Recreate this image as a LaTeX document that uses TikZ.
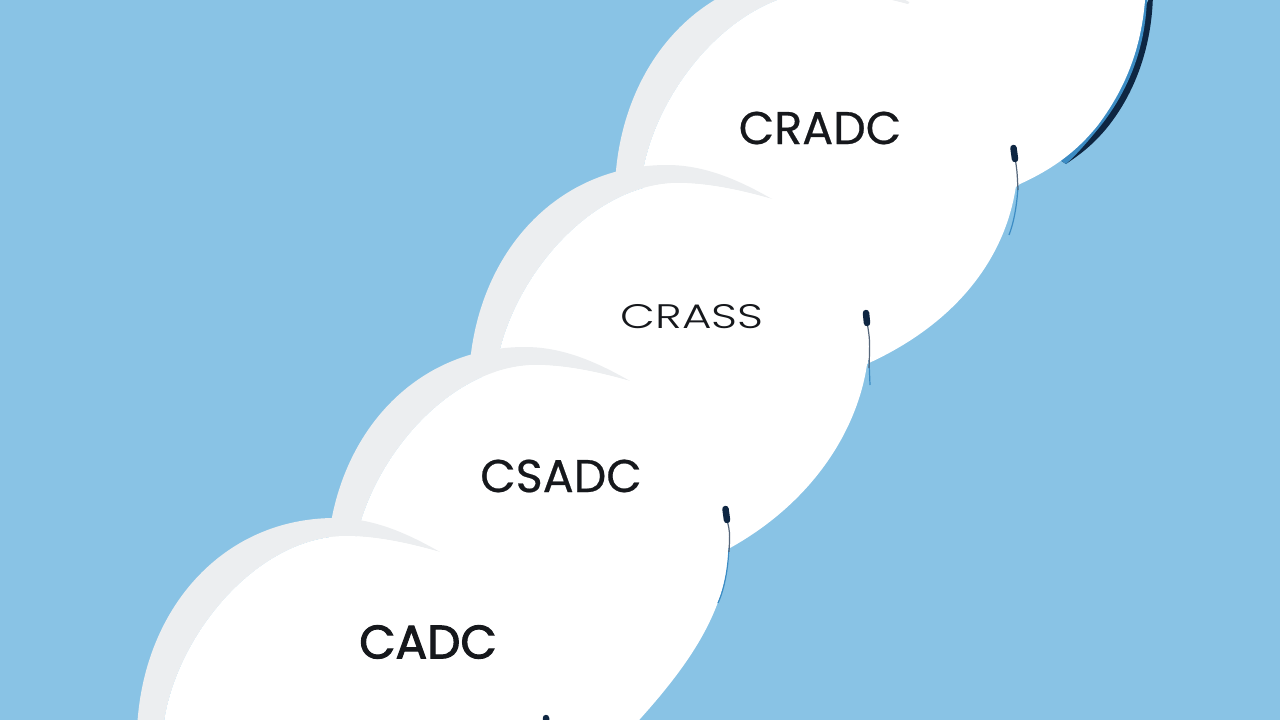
\documentclass[tikz,border=0pt]{standalone}
\usepackage{fontspec}
\setmainfont{Poppins}
\newfontfamily\heavyfont[FakeBold=2.2]{Poppins}
\newfontfamily\midfont[FakeBold=0.5]{Poppins}
\newfontfamily\thinfont[FakeStretch=1.33,UprightFont=* Light]{Poppins}
\definecolor{SkyColor}{RGB}{137,195,229}
\definecolor{RimColor}{RGB}{236,238,240}
\definecolor{PinColor}{RGB}{14,38,66}
\definecolor{WireColor}{RGB}{60,140,196}
\definecolor{InkColor}{RGB}{22,24,28}

\newcommand{\rimedge}{(137,730) .. controls (142,610) and (222,518) .. (335,518)
    .. controls (375,518) and (410,535) .. (440,552)
    .. controls (415,545) and (380,536) .. (345,536)
    .. controls (255,537) and (172,640) .. (163,730) -- cycle}
\newcommand{\bodyedge}{(163,730) .. controls (172,640) and (255,537) .. (345,536)
    .. controls (380,536) and (415,545) .. (440,552)}

\begin{document}
\begin{tikzpicture}[x=1pt, y=-1pt,
    rim/.style={fill=RimColor},
    body/.style={fill=white},
    pinhead/.style={draw=PinColor, line width=6.5pt, line cap=round},
    pinwire/.style={draw=PinColor!70!white, line width=1.2pt},
    tail/.style={draw=WireColor, line width=1.2pt},
    label/.style={text=InkColor, inner sep=0pt}]

    \fill[SkyColor] (0,0) rectangle (1280,720);
    \useasboundingbox (0,0) rectangle (1280,720);
    \clip (0,0) rectangle (1280,720);

    % top blob
    \fill[PinColor] (1153,-10) .. controls (1153,40) and (1138,90) .. (1106,129)
        .. controls (1090,148) and (1076,157) .. (1066,164) -- (1060,160) -- (1100,110) -- (1130,40) -- cycle;
    \fill[WireColor] (1147,-10) .. controls (1147.5,40) and (1132,86) .. (1100.5,126)
        .. controls (1085,145) and (1075,156) .. (1066,164) -- (1060,160) -- (1100,110) -- (1130,40) -- cycle;
    \fill[body] (850,-20) rectangle (930,20);
    \begin{scope}[shift={(478,-545)}]
        \fill[rim] \rimedge;
        \fill[body] \bodyedge -- (440,525) -- (668,525)
            .. controls (667,585) and (650,630) .. (620,670) .. controls (600,695) and (577,713) .. (542,729)
            -- (322,885) -- cycle;
    \end{scope}

    % second blob
    \begin{scope}[shift={(332,-353)}]
        \fill[rim] \rimedge;
        \fill[body] \bodyedge -- (686,200) -- (686,513)
            .. controls (685,587) and (643,667) .. (537,716) -- (300,830) -- cycle;
    \end{scope}
    \draw[tail] (1018,186) .. controls (1017,205) and (1014,222) .. (1009,235);
    \draw[pinwire] (1015,158) .. controls (1017,170) .. (1018,190);
    \draw[pinhead] (1013.5,148) -- (1015,159);

    % third blob
    \begin{scope}[shift={(190,-171)}]
        \fill[rim] \rimedge;
        \fill[body] \bodyedge -- (679,511)
            .. controls (678,581) and (635,666) .. (540,719) -- (260,830) -- cycle;
    \end{scope}
    \draw[tail] (869,360) -- (870,385);
    \draw[pinwire] (867,322) .. controls (870,340) .. (869,368);
    \draw[pinhead] (866,313) -- (867,323);

    % bottom blob
    \fill[rim] \rimedge;
    \fill[body] \bodyedge -- (730,540)
        .. controls (728,610) and (690,665) .. (630,730) -- cycle;
    \draw[tail] (729,548) .. controls (728,570) and (724,590) .. (718,603);
    \draw[pinwire] (727,520) .. controls (730,532) .. (729,552);
    \draw[pinhead] (725.5,509) -- (727,520);
    \draw[pinhead] (546,718) -- (547,730);

    \node[label, font=\midfont\fontsize{46}{46}\selectfont] (cradc) at (820,128) {CRADC};
    \node[label, font=\thinfont\fontsize{34}{34}\selectfont] (crass) at (692,317) {CRASS};
    \node[label, font=\midfont\fontsize{46}{46}\selectfont] (csadc) at (561,476) {CSADC};
    \node[label, font=\heavyfont\fontsize{47}{47}\selectfont] (cadc) at (428,642) {CADC};

\end{tikzpicture}
\end{document}
